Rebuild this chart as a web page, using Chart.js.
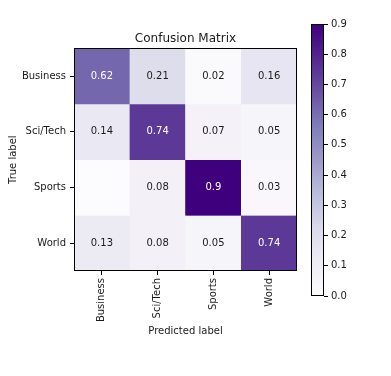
<!DOCTYPE html>
<html>
<head>
<meta charset="utf-8">
<script src="https://cdn.jsdelivr.net/npm/chart.js@4/dist/chart.umd.min.js"></script>
<style>
  html, body { margin: 0; padding: 0; background: #ffffff; }
  #wrap { position: relative; width: 391px; height: 376px; }
  #main { position: absolute; left: 0; top: 0; }
  #cbar { position: absolute; left: 300px; top: 0; }
</style>
</head>
<body>
<div id="wrap">
  <canvas id="main" width="391" height="376"></canvas>
  <canvas id="cbar" width="91" height="376"></canvas>
</div>
<script>
// ---- data ----
const predictedLabels = ["Business", "Sci/Tech", "Sports", "World"];
const trueLabels = ["Business", "Sci/Tech", "Sports", "World"];
const rowBusiness = [0.62, 0.21, 0.02, 0.16];
const rowSciTech  = [0.14, 0.74, 0.07, 0.05];
const rowSports   = [0.00, 0.08, 0.90, 0.03];
const rowWorld    = [0.13, 0.08, 0.05, 0.74];
const colorbarTicks = [0.0, 0.1, 0.2, 0.3, 0.4, 0.5, 0.6, 0.7, 0.8, 0.9];
const vmin = 0.0, vmax = 0.9;

const matrix = [rowBusiness, rowSciTech, rowSports, rowWorld];

// matplotlib "Purples" (ColorBrewer 9-class)
const purples = ["#fcfbfd","#efedf5","#dadaeb","#bcbddc","#9e9ac8","#807dba","#6a51a3","#54278f","#3f007d"];
function hexToRgb(h){ return [parseInt(h.slice(1,3),16), parseInt(h.slice(3,5),16), parseInt(h.slice(5,7),16)]; }
function cmap(v){
  let t = (v - vmin) / (vmax - vmin);
  t = Math.max(0, Math.min(1, t));
  const pos = t * (purples.length - 1);
  const i = Math.min(Math.floor(pos), purples.length - 2);
  const f = pos - i;
  const a = hexToRgb(purples[i]), b = hexToRgb(purples[i+1]);
  const c = a.map((x, k) => Math.round(x + (b[k] - x) * f));
  return `rgb(${c[0]},${c[1]},${c[2]})`;
}

const FONT = "'DejaVu Sans', sans-serif";
const TXT = "#1a1a1a";

const framePlugin = {
  id: 'frame',
  afterDraw(chart) {
    const a = chart.chartArea, c = chart.ctx;
    c.save();
    c.strokeStyle = '#000';
    c.lineWidth = 1;
    c.strokeRect(Math.round(a.left) + 0.5, Math.round(a.top) + 0.5,
                 Math.round(a.right - a.left) - 1, Math.round(a.bottom - a.top) - 1);
    c.restore();
  }
};

const cellTextPlugin = {
  id: 'cellText',
  afterDatasetsDraw(chart) {
    const xs = chart.scales.x, ys = chart.scales.y, c = chart.ctx;
    c.save();
    c.font = "10px " + FONT;
    c.textAlign = 'center';
    c.textBaseline = 'middle';
    const thresh = vmax / 2;
    matrix.forEach((row, r) => {
      row.forEach((v, col) => {
        if (v === 0) return;
        c.fillStyle = v > thresh ? '#ffffff' : TXT;
        c.fillText(String(v), xs.getPixelForValue(col), ys.getPixelForValue(r));
      });
    });
    c.restore();
  }
};

const datasets = matrix.map((row, r) => ({
  label: trueLabels[r],
  data: row.map(() => [r - 0.5, r + 0.5]),
  backgroundColor: row.map(v => cmap(v)),
  borderColor: row.map(v => cmap(v)),
  borderWidth: 0.5,
  borderSkipped: false,
  barPercentage: 1.0,
  categoryPercentage: 1.0,
  grouped: false
}));

new Chart(document.getElementById('main'), {
  type: 'bar',
  data: { labels: predictedLabels, datasets },
  options: {
    responsive: false,
    animation: false,
    layout: { padding: { left: 7, right: 94, top: 0, bottom: 39 } },
    plugins: {
      legend: { display: false },
      tooltip: { enabled: false },
      title: {
        display: true, text: 'Confusion Matrix', color: TXT, fullSize: false,
        font: { family: FONT, size: 12, weight: 'normal' },
        padding: { top: 32, bottom: 2 }
      }
    },
    scales: {
      x: {
        type: 'category',
        offset: true,
        grid: { display: true, drawOnChartArea: false, offset: false, tickLength: 4, color: '#000', tickWidth: 1 },
        border: { display: false },
        ticks: { color: TXT, font: { family: FONT, size: 10 }, minRotation: 90, maxRotation: 90, padding: 3, autoSkip: false },
        title: { display: true, text: 'Predicted label', color: TXT, font: { family: FONT, size: 10 }, padding: { top: 2, bottom: 0 } },
        afterFit(s) { s.height = 376 - 39 - 271; }
      },
      y: {
        type: 'linear',
        reverse: true,
        min: -0.5, max: 3.5,
        afterBuildTicks(s) { s.ticks = [0, 1, 2, 3].map(v => ({ value: v })); },
        grid: { display: true, drawOnChartArea: false, tickLength: 4, color: '#000', tickWidth: 1 },
        border: { display: false },
        ticks: { color: TXT, font: { family: FONT, size: 10 }, padding: 4, callback: v => trueLabels[v] ?? '' },
        title: { display: true, text: 'True label', color: TXT, font: { family: FONT, size: 10 }, padding: { top: 0, bottom: 0 } },
        afterFit(s) { s.width = 74 - 7; }
      }
    }
  },
  plugins: [cellTextPlugin, framePlugin]
});

// ---- colorbar ----
function cbGradient(ctx) {
  const chart = ctx.chart, a = chart.chartArea;
  if (!a) return purples[4];
  const g = chart.ctx.createLinearGradient(0, a.bottom, 0, a.top);
  purples.forEach((col, i) => g.addColorStop(i / (purples.length - 1), col));
  return g;
}

new Chart(document.getElementById('cbar'), {
  type: 'bar',
  data: { labels: ['cb'], datasets: [{ data: [[vmin, vmax]], backgroundColor: cbGradient, borderWidth: 0, barPercentage: 1, categoryPercentage: 1 }] },
  options: {
    responsive: false,
    animation: false,
    layout: { padding: { left: 11, right: 0, top: 24, bottom: 80 } },
    plugins: { legend: { display: false }, tooltip: { enabled: false } },
    scales: {
      x: { display: false },
      y: {
        position: 'right',
        min: vmin, max: vmax,
        afterBuildTicks(s) { s.ticks = colorbarTicks.map(v => ({ value: v })); },
        grid: { display: true, drawOnChartArea: false, tickLength: 4, color: '#000', tickWidth: 1 },
        border: { display: false },
        ticks: { color: TXT, font: { family: FONT, size: 10 }, padding: 3, callback: v => Number(v).toFixed(1) },
        afterFit(s) { s.width = 91 - 11 - 13; }
      }
    }
  },
  plugins: [framePlugin]
});
</script>
</body>
</html>
